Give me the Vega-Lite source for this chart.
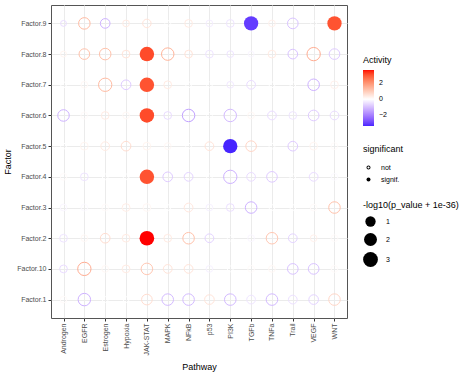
{
 "$schema": "https://vega.github.io/schema/vega-lite/v6.json",
 "width": 296, "height": 313,
 "autosize": {"type": "none"},
 "padding": {"left": 51, "top": 5, "right": 127, "bottom": 61},
 "config": {
   "font": "Liberation Sans",
   "view": {"stroke": "#555555", "strokeWidth": 1},
   "axis": {"grid": true, "gridColor": "#EBEBEB", "gridWidth": 1, "domain": false, "tickColor": "#333333", "tickSize": 3, "labelColor": "#4D4D4D", "labelFontSize": 7, "titleFontSize": 9, "titleFontWeight": "normal", "titleColor": "#000000", "labelPadding": 2},
   "legend": {"titleFontSize": 9, "titleFontWeight": "normal", "labelFontSize": 7, "labelColor": "#000000", "titleColor": "#000000"}
 },
 "data": {"values": [
  {"Factor":"Factor.9","Pathway":"Androgen","Activity":-0.52,"neglogp":0.1,"significant":"not"},
  {"Factor":"Factor.9","Pathway":"EGFR","Activity":1.3,"neglogp":1.42,"significant":"not"},
  {"Factor":"Factor.9","Pathway":"Estrogen","Activity":-1.17,"neglogp":0.8,"significant":"not"},
  {"Factor":"Factor.9","Pathway":"Hypoxia","Activity":0.39,"neglogp":0.2,"significant":"not"},
  {"Factor":"Factor.9","Pathway":"JAK-STAT","Activity":0.52,"neglogp":0.5,"significant":"not"},
  {"Factor":"Factor.9","Pathway":"MAPK","Activity":0.0,"neglogp":0.1,"significant":"not"},
  {"Factor":"Factor.9","Pathway":"NFkB","Activity":0.39,"neglogp":0.36,"significant":"not"},
  {"Factor":"Factor.9","Pathway":"p53","Activity":-0.26,"neglogp":0.2,"significant":"not"},
  {"Factor":"Factor.9","Pathway":"PI3K","Activity":-0.39,"neglogp":0.36,"significant":"not"},
  {"Factor":"Factor.9","Pathway":"TGFb","Activity":-3.0,"neglogp":2.7,"significant":"signif."},
  {"Factor":"Factor.9","Pathway":"TNFa","Activity":0.26,"neglogp":0.2,"significant":"not"},
  {"Factor":"Factor.9","Pathway":"Trail","Activity":-0.91,"neglogp":1.1,"significant":"not"},
  {"Factor":"Factor.9","Pathway":"VEGF","Activity":0.0,"neglogp":0.1,"significant":"not"},
  {"Factor":"Factor.9","Pathway":"WNT","Activity":3.0,"neglogp":2.7,"significant":"signif."},

  {"Factor":"Factor.8","Pathway":"Androgen","Activity":0.2,"neglogp":0.1,"significant":"not"},
  {"Factor":"Factor.8","Pathway":"EGFR","Activity":1.17,"neglogp":1.1,"significant":"not"},
  {"Factor":"Factor.8","Pathway":"Estrogen","Activity":1.17,"neglogp":1.42,"significant":"not"},
  {"Factor":"Factor.8","Pathway":"Hypoxia","Activity":0.52,"neglogp":0.36,"significant":"not"},
  {"Factor":"Factor.8","Pathway":"JAK-STAT","Activity":3.1,"neglogp":2.8,"significant":"signif."},
  {"Factor":"Factor.8","Pathway":"MAPK","Activity":1.43,"neglogp":1.8,"significant":"not"},
  {"Factor":"Factor.8","Pathway":"NFkB","Activity":0.52,"neglogp":0.36,"significant":"not"},
  {"Factor":"Factor.8","Pathway":"p53","Activity":-0.39,"neglogp":0.36,"significant":"not"},
  {"Factor":"Factor.8","Pathway":"PI3K","Activity":-0.39,"neglogp":0.2,"significant":"not"},
  {"Factor":"Factor.8","Pathway":"TGFb","Activity":-0.13,"neglogp":0.1,"significant":"not"},
  {"Factor":"Factor.8","Pathway":"TNFa","Activity":0.39,"neglogp":0.36,"significant":"not"},
  {"Factor":"Factor.8","Pathway":"Trail","Activity":-0.91,"neglogp":0.8,"significant":"not"},
  {"Factor":"Factor.8","Pathway":"VEGF","Activity":1.56,"neglogp":2.2,"significant":"not"},
  {"Factor":"Factor.8","Pathway":"WNT","Activity":-0.78,"neglogp":1.1,"significant":"not"},

  {"Factor":"Factor.7","Pathway":"Androgen","Activity":0.0,"neglogp":0.1,"significant":"not"},
  {"Factor":"Factor.7","Pathway":"EGFR","Activity":0.13,"neglogp":0.2,"significant":"not"},
  {"Factor":"Factor.7","Pathway":"Estrogen","Activity":1.3,"neglogp":2.2,"significant":"not"},
  {"Factor":"Factor.7","Pathway":"Hypoxia","Activity":-0.78,"neglogp":0.8,"significant":"not"},
  {"Factor":"Factor.7","Pathway":"JAK-STAT","Activity":3.0,"neglogp":2.8,"significant":"signif."},
  {"Factor":"Factor.7","Pathway":"MAPK","Activity":0.39,"neglogp":0.36,"significant":"not"},
  {"Factor":"Factor.7","Pathway":"NFkB","Activity":0.0,"neglogp":0.1,"significant":"not"},
  {"Factor":"Factor.7","Pathway":"p53","Activity":0.0,"neglogp":0.1,"significant":"not"},
  {"Factor":"Factor.7","Pathway":"PI3K","Activity":-0.33,"neglogp":0.2,"significant":"not"},
  {"Factor":"Factor.7","Pathway":"TGFb","Activity":-0.52,"neglogp":0.56,"significant":"not"},
  {"Factor":"Factor.7","Pathway":"TNFa","Activity":0.0,"neglogp":0.1,"significant":"not"},
  {"Factor":"Factor.7","Pathway":"Trail","Activity":0.0,"neglogp":0.1,"significant":"not"},
  {"Factor":"Factor.7","Pathway":"VEGF","Activity":-1.17,"neglogp":1.42,"significant":"not"},
  {"Factor":"Factor.7","Pathway":"WNT","Activity":0.26,"neglogp":0.36,"significant":"not"},

  {"Factor":"Factor.6","Pathway":"Androgen","Activity":-1.17,"neglogp":1.42,"significant":"not"},
  {"Factor":"Factor.6","Pathway":"EGFR","Activity":0.07,"neglogp":0.2,"significant":"not"},
  {"Factor":"Factor.6","Pathway":"Estrogen","Activity":0.39,"neglogp":0.36,"significant":"not"},
  {"Factor":"Factor.6","Pathway":"Hypoxia","Activity":0.13,"neglogp":0.2,"significant":"not"},
  {"Factor":"Factor.6","Pathway":"JAK-STAT","Activity":3.1,"neglogp":2.8,"significant":"signif."},
  {"Factor":"Factor.6","Pathway":"MAPK","Activity":-0.52,"neglogp":0.36,"significant":"not"},
  {"Factor":"Factor.6","Pathway":"NFkB","Activity":-1.43,"neglogp":1.8,"significant":"not"},
  {"Factor":"Factor.6","Pathway":"p53","Activity":0.0,"neglogp":0.1,"significant":"not"},
  {"Factor":"Factor.6","Pathway":"PI3K","Activity":-1.04,"neglogp":1.8,"significant":"not"},
  {"Factor":"Factor.6","Pathway":"TGFb","Activity":0.13,"neglogp":0.2,"significant":"not"},
  {"Factor":"Factor.6","Pathway":"TNFa","Activity":-0.52,"neglogp":0.56,"significant":"not"},
  {"Factor":"Factor.6","Pathway":"Trail","Activity":-0.39,"neglogp":0.36,"significant":"not"},
  {"Factor":"Factor.6","Pathway":"VEGF","Activity":-0.78,"neglogp":1.1,"significant":"not"},
  {"Factor":"Factor.6","Pathway":"WNT","Activity":-0.52,"neglogp":0.56,"significant":"not"},

  {"Factor":"Factor.5","Pathway":"Androgen","Activity":0.0,"neglogp":0.1,"significant":"not"},
  {"Factor":"Factor.5","Pathway":"EGFR","Activity":0.2,"neglogp":0.36,"significant":"not"},
  {"Factor":"Factor.5","Pathway":"Estrogen","Activity":0.39,"neglogp":0.56,"significant":"not"},
  {"Factor":"Factor.5","Pathway":"Hypoxia","Activity":0.65,"neglogp":0.8,"significant":"not"},
  {"Factor":"Factor.5","Pathway":"JAK-STAT","Activity":0.2,"neglogp":0.36,"significant":"not"},
  {"Factor":"Factor.5","Pathway":"MAPK","Activity":0.13,"neglogp":0.2,"significant":"not"},
  {"Factor":"Factor.5","Pathway":"NFkB","Activity":0.0,"neglogp":0.1,"significant":"not"},
  {"Factor":"Factor.5","Pathway":"p53","Activity":0.52,"neglogp":0.56,"significant":"not"},
  {"Factor":"Factor.5","Pathway":"PI3K","Activity":-3.3,"neglogp":2.7,"significant":"signif."},
  {"Factor":"Factor.5","Pathway":"TGFb","Activity":0.78,"neglogp":1.1,"significant":"not"},
  {"Factor":"Factor.5","Pathway":"TNFa","Activity":0.0,"neglogp":0.1,"significant":"not"},
  {"Factor":"Factor.5","Pathway":"Trail","Activity":-0.78,"neglogp":0.8,"significant":"not"},
  {"Factor":"Factor.5","Pathway":"VEGF","Activity":0.2,"neglogp":0.36,"significant":"not"},
  {"Factor":"Factor.5","Pathway":"WNT","Activity":0.07,"neglogp":0.2,"significant":"not"},

  {"Factor":"Factor.4","Pathway":"Androgen","Activity":0.07,"neglogp":0.2,"significant":"not"},
  {"Factor":"Factor.4","Pathway":"EGFR","Activity":-0.39,"neglogp":0.36,"significant":"not"},
  {"Factor":"Factor.4","Pathway":"Estrogen","Activity":0.0,"neglogp":0.1,"significant":"not"},
  {"Factor":"Factor.4","Pathway":"Hypoxia","Activity":0.0,"neglogp":0.1,"significant":"not"},
  {"Factor":"Factor.4","Pathway":"JAK-STAT","Activity":3.0,"neglogp":2.8,"significant":"signif."},
  {"Factor":"Factor.4","Pathway":"MAPK","Activity":-0.78,"neglogp":0.8,"significant":"not"},
  {"Factor":"Factor.4","Pathway":"NFkB","Activity":-0.65,"neglogp":0.56,"significant":"not"},
  {"Factor":"Factor.4","Pathway":"p53","Activity":0.0,"neglogp":0.1,"significant":"not"},
  {"Factor":"Factor.4","Pathway":"PI3K","Activity":-1.17,"neglogp":2.2,"significant":"not"},
  {"Factor":"Factor.4","Pathway":"TGFb","Activity":-0.52,"neglogp":0.56,"significant":"not"},
  {"Factor":"Factor.4","Pathway":"TNFa","Activity":-0.78,"neglogp":1.1,"significant":"not"},
  {"Factor":"Factor.4","Pathway":"Trail","Activity":0.0,"neglogp":0.1,"significant":"not"},
  {"Factor":"Factor.4","Pathway":"VEGF","Activity":-0.52,"neglogp":0.56,"significant":"not"},
  {"Factor":"Factor.4","Pathway":"WNT","Activity":-0.07,"neglogp":0.2,"significant":"not"},

  {"Factor":"Factor.3","Pathway":"Androgen","Activity":-0.13,"neglogp":0.2,"significant":"not"},
  {"Factor":"Factor.3","Pathway":"EGFR","Activity":-0.07,"neglogp":0.2,"significant":"not"},
  {"Factor":"Factor.3","Pathway":"Estrogen","Activity":0.07,"neglogp":0.2,"significant":"not"},
  {"Factor":"Factor.3","Pathway":"Hypoxia","Activity":0.33,"neglogp":0.36,"significant":"not"},
  {"Factor":"Factor.3","Pathway":"JAK-STAT","Activity":0.13,"neglogp":0.36,"significant":"not"},
  {"Factor":"Factor.3","Pathway":"MAPK","Activity":0.0,"neglogp":0.1,"significant":"not"},
  {"Factor":"Factor.3","Pathway":"NFkB","Activity":0.46,"neglogp":0.56,"significant":"not"},
  {"Factor":"Factor.3","Pathway":"p53","Activity":-0.2,"neglogp":0.2,"significant":"not"},
  {"Factor":"Factor.3","Pathway":"PI3K","Activity":-0.46,"neglogp":0.36,"significant":"not"},
  {"Factor":"Factor.3","Pathway":"TGFb","Activity":-1.17,"neglogp":1.42,"significant":"not"},
  {"Factor":"Factor.3","Pathway":"TNFa","Activity":0.0,"neglogp":0.1,"significant":"not"},
  {"Factor":"Factor.3","Pathway":"Trail","Activity":0.0,"neglogp":0.1,"significant":"not"},
  {"Factor":"Factor.3","Pathway":"VEGF","Activity":0.07,"neglogp":0.2,"significant":"not"},
  {"Factor":"Factor.3","Pathway":"WNT","Activity":1.17,"neglogp":1.42,"significant":"not"},

  {"Factor":"Factor.2","Pathway":"Androgen","Activity":-0.39,"neglogp":0.36,"significant":"not"},
  {"Factor":"Factor.2","Pathway":"EGFR","Activity":0.13,"neglogp":0.2,"significant":"not"},
  {"Factor":"Factor.2","Pathway":"Estrogen","Activity":0.65,"neglogp":0.8,"significant":"not"},
  {"Factor":"Factor.2","Pathway":"Hypoxia","Activity":0.39,"neglogp":0.36,"significant":"not"},
  {"Factor":"Factor.2","Pathway":"JAK-STAT","Activity":3.6,"neglogp":2.9,"significant":"signif."},
  {"Factor":"Factor.2","Pathway":"MAPK","Activity":0.39,"neglogp":0.36,"significant":"not"},
  {"Factor":"Factor.2","Pathway":"NFkB","Activity":1.17,"neglogp":1.42,"significant":"not"},
  {"Factor":"Factor.2","Pathway":"p53","Activity":-0.65,"neglogp":0.56,"significant":"not"},
  {"Factor":"Factor.2","Pathway":"PI3K","Activity":0.0,"neglogp":0.1,"significant":"not"},
  {"Factor":"Factor.2","Pathway":"TGFb","Activity":-0.13,"neglogp":0.2,"significant":"not"},
  {"Factor":"Factor.2","Pathway":"TNFa","Activity":1.04,"neglogp":1.42,"significant":"not"},
  {"Factor":"Factor.2","Pathway":"Trail","Activity":-0.65,"neglogp":0.56,"significant":"not"},
  {"Factor":"Factor.2","Pathway":"VEGF","Activity":0.26,"neglogp":0.2,"significant":"not"},
  {"Factor":"Factor.2","Pathway":"WNT","Activity":0.07,"neglogp":0.2,"significant":"not"},

  {"Factor":"Factor.10","Pathway":"Androgen","Activity":-0.52,"neglogp":0.36,"significant":"not"},
  {"Factor":"Factor.10","Pathway":"EGFR","Activity":1.56,"neglogp":2.2,"significant":"not"},
  {"Factor":"Factor.10","Pathway":"Estrogen","Activity":0.13,"neglogp":0.2,"significant":"not"},
  {"Factor":"Factor.10","Pathway":"Hypoxia","Activity":0.39,"neglogp":0.36,"significant":"not"},
  {"Factor":"Factor.10","Pathway":"JAK-STAT","Activity":1.04,"neglogp":1.42,"significant":"not"},
  {"Factor":"Factor.10","Pathway":"MAPK","Activity":0.52,"neglogp":0.56,"significant":"not"},
  {"Factor":"Factor.10","Pathway":"NFkB","Activity":0.52,"neglogp":0.56,"significant":"not"},
  {"Factor":"Factor.10","Pathway":"p53","Activity":-0.2,"neglogp":0.2,"significant":"not"},
  {"Factor":"Factor.10","Pathway":"PI3K","Activity":0.0,"neglogp":0.1,"significant":"not"},
  {"Factor":"Factor.10","Pathway":"TGFb","Activity":0.07,"neglogp":0.2,"significant":"not"},
  {"Factor":"Factor.10","Pathway":"TNFa","Activity":0.13,"neglogp":0.2,"significant":"not"},
  {"Factor":"Factor.10","Pathway":"Trail","Activity":-0.91,"neglogp":1.1,"significant":"not"},
  {"Factor":"Factor.10","Pathway":"VEGF","Activity":-0.91,"neglogp":1.1,"significant":"not"},
  {"Factor":"Factor.10","Pathway":"WNT","Activity":0.07,"neglogp":0.2,"significant":"not"},

  {"Factor":"Factor.1","Pathway":"Androgen","Activity":0.07,"neglogp":0.2,"significant":"not"},
  {"Factor":"Factor.1","Pathway":"EGFR","Activity":-1.17,"neglogp":1.8,"significant":"not"},
  {"Factor":"Factor.1","Pathway":"Estrogen","Activity":0.0,"neglogp":0.1,"significant":"not"},
  {"Factor":"Factor.1","Pathway":"Hypoxia","Activity":0.0,"neglogp":0.1,"significant":"not"},
  {"Factor":"Factor.1","Pathway":"JAK-STAT","Activity":0.65,"neglogp":1.1,"significant":"not"},
  {"Factor":"Factor.1","Pathway":"MAPK","Activity":-1.04,"neglogp":1.42,"significant":"not"},
  {"Factor":"Factor.1","Pathway":"NFkB","Activity":-1.04,"neglogp":1.42,"significant":"not"},
  {"Factor":"Factor.1","Pathway":"p53","Activity":0.52,"neglogp":0.8,"significant":"not"},
  {"Factor":"Factor.1","Pathway":"PI3K","Activity":-1.04,"neglogp":1.42,"significant":"not"},
  {"Factor":"Factor.1","Pathway":"TGFb","Activity":-0.39,"neglogp":0.56,"significant":"not"},
  {"Factor":"Factor.1","Pathway":"TNFa","Activity":-1.04,"neglogp":1.42,"significant":"not"},
  {"Factor":"Factor.1","Pathway":"Trail","Activity":-0.46,"neglogp":0.56,"significant":"not"},
  {"Factor":"Factor.1","Pathway":"VEGF","Activity":-0.65,"neglogp":0.8,"significant":"not"},
  {"Factor":"Factor.1","Pathway":"WNT","Activity":0.78,"neglogp":1.42,"significant":"not"}
 ]},
 "encoding": {
   "x": {"field": "Pathway", "type": "nominal",
     "sort": ["Androgen","EGFR","Estrogen","Hypoxia","JAK-STAT","MAPK","NFkB","p53","PI3K","TGFb","TNFa","Trail","VEGF","WNT"],
     "scale": {"padding": 0.6},
     "axis": {"labelAngle": 270, "labelAlign": "right", "labelBaseline": "middle", "title": "Pathway", "titlePadding": 7}},
   "y": {"field": "Factor", "type": "nominal",
     "sort": ["Factor.9","Factor.8","Factor.7","Factor.6","Factor.5","Factor.4","Factor.3","Factor.2","Factor.10","Factor.1"],
     "scale": {"padding": 0.6},
     "axis": {"title": "Factor", "titlePadding": 4}}
 },
 "resolve": {"legend": {"color": "independent", "size": "independent"}},
 "layer": [
  {"transform": [{"filter": "datum.significant === 'signif.'"}],
   "mark": {"type": "point", "filled": true, "opacity": 1},
   "encoding": {
     "color": {"field": "Activity", "type": "quantitative",
       "scale": {"domain": [-3.3, 0, 3.6], "range": ["#4725ff", "#ffffff", "#ff0000"], "interpolate": "lab"},
       "legend": {"type": "gradient", "title": "Activity", "orient": "none", "legendX": 312, "legendY": 51, "direction": "vertical", "gradientLength": 56, "gradientThickness": 11, "gradientStrokeWidth": 0, "values": [-2, 0, 2], "labelOverlap": false, "titlePadding": 5, "labelOffset": 5}},
     "size": {"field": "neglogp", "type": "quantitative", "title": "-log10(p_value + 1e-36)",
       "scale": {"type": "pow", "exponent": 0.75, "domain": [0, 3.2], "range": [19, 229]},
       "legend": {"type": "symbol", "orient": "none", "legendX": 312, "legendY": 196, "direction": "vertical", "values": [1, 2, 3], "format": "d", "titlePadding": 6, "rowPadding": 6, "labelOffset": 8, "symbolType": "circle", "symbolFillColor": "black", "symbolStrokeColor": "black", "symbolStrokeWidth": 0, "symbolOpacity": 1}},
     "shape": {"field": "significant", "type": "nominal",
       "scale": {"domain": ["not", "signif."], "range": ["M-1,0A1,1,0,1,0,1,0A1,1,0,1,0,-1,0ZM-0.55,0A0.55,0.55,0,1,1,0.55,0A0.55,0.55,0,1,1,-0.55,0Z", "circle"]},
       "legend": {"title": "significant", "orient": "none", "legendX": 312, "legendY": 140, "direction": "vertical", "symbolSize": 16, "symbolOffset": 2, "labelOffset": 9, "titlePadding": 10, "rowPadding": 4, "symbolFillColor": "black", "symbolStrokeColor": "black", "symbolStrokeWidth": 0, "symbolOpacity": 1}}
   }},
  {"transform": [{"filter": "datum.significant === 'not'"}],
   "mark": {"type": "point", "filled": false, "strokeWidth": 1, "opacity": 1},
   "encoding": {
     "color": {"field": "Activity", "type": "quantitative", "legend": null},
     "size": {"field": "neglogp", "type": "quantitative", "legend": null}
   }}
 ]
}
